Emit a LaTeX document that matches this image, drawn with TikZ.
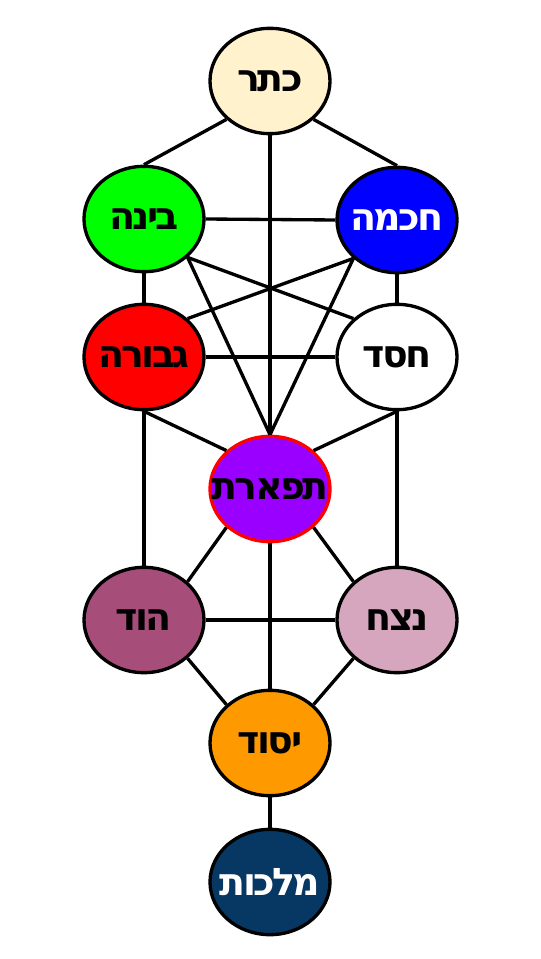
\documentclass[tikz,border=0pt]{standalone}
\usepackage{fontspec}
\usetikzlibrary{shapes.geometric}
\TeXXeTstate=1
\newfontfamily\hebfont[Script=Hebrew, LetterSpace=-7]{DejaVu Sans}
\definecolor{keterc}{HTML}{FFF2CC}
\definecolor{hodc}{HTML}{A64D79}
\definecolor{netzachc}{HTML}{D5A6BD}
\definecolor{yesodc}{HTML}{FF9900}
\definecolor{tiferetc}{HTML}{9900FF}
\definecolor{malkhutc}{HTML}{073763}
\tikzset{
	sefira/.style  = {draw, ellipse, line width=2.5pt, minimum width=90pt,
		minimum height=79pt, inner sep=0pt, font=\hebfont\bfseries\fontsize{28.5}{28.5}\selectfont},
	channel/.style = {line width=2.5pt}
}
\newcommand{\heb}[1]{\makebox[0pt][c]{\beginR #1\endR}}

\begin{document}
\begin{tikzpicture}[x=0.75pt, y=-0.75pt]
	\useasboundingbox (0,0) rectangle (540,959);
	% nodes
	\path
	node at (270,81)  [sefira, fill=keterc] (keter) {\heb{כתר}}
	node at (144,219) [sefira, fill=green] (binah) {\heb{בינה}}
	node at (397,220) [sefira, fill=blue, text=white] (chokhmah) {\heb{חכמה}}
	node at (144,357) [sefira, fill=red] (gevurah) {\heb{גבורה}}
	node at (397,357) [sefira, fill=white] (chesed) {\heb{חסד}}
	node at (270,489) [sefira, fill=tiferetc, draw=red] (tiferet) {\heb{תפארת}}
	node at (144,620) [sefira, fill=hodc] (hod) {\heb{הוד}}
	node at (397,620) [sefira, fill=netzachc] (netzach) {\heb{נצח}}
	node at (270,743) [sefira, fill=yesodc] (yesod) {\heb{יסוד}}
	node at (270,882) [sefira, fill=malkhutc, text=white] (malkhut) {\heb{מלכות}};
	
	% channels
	\draw[channel] (keter.south west)--(binah.north);
	\draw[channel] (keter.south east)--(chokhmah.north);
	\draw[channel] (keter.south)--(tiferet.north);
	\draw[channel] (binah.east)--(chokhmah.west);
	\draw[channel] (binah.south)--(gevurah.north);
	\draw[channel] (chokhmah.south)--(chesed.north);
	\draw[channel] (binah.south east)--(chesed.north west);
	\draw[channel] (chokhmah.south west)--(gevurah.north east);
	\draw[channel] (binah.south east)--(tiferet.north);
	\draw[channel] (chokhmah.south west)--(tiferet.north);
	\draw[channel] (gevurah.east)--(chesed.west);
	\draw[channel] (gevurah.south)--(tiferet.north west);
	\draw[channel] (chesed.south)--(tiferet.north east);
	\draw[channel] (gevurah.south)--(hod.north);
	\draw[channel] (chesed.south)--(netzach.north);
	\draw[channel] (tiferet.south west)--(hod.north east);
	\draw[channel] (tiferet.south east)--(netzach.north west);
	\draw[channel] (tiferet.south)--(yesod.north);
	\draw[channel] (hod.east)--(netzach.west);
	\draw[channel] (hod.south east)--(yesod.north west);
	\draw[channel] (netzach.south west)--(yesod.north east);
	\draw[channel] (yesod.south)--(malkhut.north);
	
\end{tikzpicture}
\end{document}
